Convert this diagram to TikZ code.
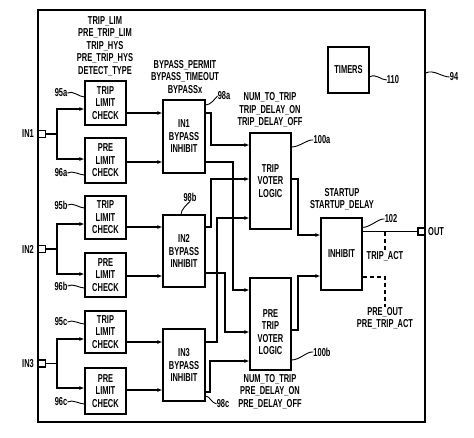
\documentclass[tikz,border=0pt]{standalone}
\usepackage{fontspec}
\setmainfont{Liberation Sans}[FakeStretch=0.65]
\usetikzlibrary{arrows.meta}
\begin{document}
\begin{tikzpicture}[x=1pt,y=-1pt,
  every node/.style={font=\fontsize{11.5}{12.5}\selectfont\bfseries, inner sep=0pt},
  box/.style={draw, line width=1.2pt, align=center, minimum width=41pt},
  txt/.style={align=center},
  wire/.style={line width=1.2pt},
  arr/.style={wire, -{Latex[length=5pt,width=4pt]}},
  dashline/.style={line width=1.2pt, dash pattern=on 4pt off 3pt},
  lead/.style={line width=0.9pt},
  port/.style={draw, line width=1.2pt, minimum size=7pt, fill=white}
]
\useasboundingbox (0,0) rectangle (474,437);

% frame
\node[draw, line width=1.2pt, minimum width=387pt, minimum height=412pt] (frame) at (231.5,216) {};
\node[box, minimum height=46pt] (timers) at (348.5,70) {TIMERS};

% limit checks
\node[box, minimum height=44pt] (ta) at (105.5,103) {TRIP\\LIMIT\\CHECK};
\node[box, minimum height=45pt] (pa) at (105.5,160.5) {PRE\\LIMIT\\CHECK};
\node[box, minimum height=43pt] (tb) at (105.5,217.5) {TRIP\\LIMIT\\CHECK};
\node[box, minimum height=44pt] (pb) at (105.5,275) {PRE\\LIMIT\\CHECK};
\node[box, minimum height=42pt] (tc) at (105.5,332) {TRIP\\LIMIT\\CHECK};
\node[box, minimum height=46pt] (pc) at (105.5,391) {PRE\\LIMIT\\CHECK};

% bypass inhibits
\node[box, minimum width=42pt, minimum height=73pt] (ba) at (184,136.5) {IN1\\BYPASS\\INHIBIT};
\node[box, minimum width=42pt, minimum height=72pt] (bb) at (184,251) {IN2\\BYPASS\\INHIBIT};
\node[box, minimum width=42pt, minimum height=72pt] (bc) at (184,365) {IN3\\BYPASS\\INHIBIT};

% voters
\node[box, minimum height=96pt] (va) at (270.5,181) {TRIP\\VOTER\\LOGIC};
\node[box, minimum height=92pt] (vb) at (270.5,324) {};
\node[txt] (vbt) at (270.5,332) {PRE\\TRIP\\VOTER\\LOGIC};

% inhibit
\node[box, minimum height=72pt] (inh) at (341.5,254) {INHIBIT};

% ports
\node[port] (in1) at (42,134) {};
\node[port] (in2) at (42,249) {};
\node[port] (in3) at (42,363.5) {};
\node[port] (out) at (421.5,231.5) {};
\node (in1l) at (28,134) {IN1};
\node (in2l) at (28,249) {IN2};
\node (in3l) at (28,363.5) {IN3};
\node[anchor=west] (outl) at (428,231.5) {OUT};

% parameter texts
\node[txt] (p1) at (105,46) {TRIP\_LIM\\PRE\_TRIP\_LIM\\TRIP\_HYS\\PRE\_TRIP\_HYS\\DETECT\_TYPE};
\node[txt] (p2) at (185,77) {BYPASS\_PERMIT\\BYPASS\_TIMEOUT\\BYPASSx};
\node[txt] (p3) at (270,110) {NUM\_TO\_TRIP\\TRIP\_DELAY\_ON\\TRIP\_DELAY\_OFF};
\node[txt] (p4) at (342,199) {STARTUP\\STARTUP\_DELAY};
\node[txt] (p5) at (270,391.5) {NUM\_TO\_TRIP\\PRE\_DELAY\_ON\\PRE\_DELAY\_OFF};
\node[txt] (tact) at (385,256) {TRIP\_ACT};
\node[txt] (pout) at (385,318) {PRE\_OUT\\PRE\_TRIP\_ACT};

% input branches
\coordinate (j1) at (57,134);
\coordinate (j2) at (57,249);
\coordinate (j3) at (57,363.5);
\draw[wire] (in1.east) -- (j1);
\draw[arr] (j1) |- (ta.west |- 0,109);
\draw[arr] (j1) |- (pa.west |- 0,159);
\draw[wire] (in2.east) -- (j2);
\draw[arr] (j2) |- (tb.west |- 0,224);
\draw[arr] (j2) |- (pb.west |- 0,274);
\draw[wire] (in3.east) -- (j3);
\draw[arr] (j3) |- (tc.west |- 0,339);
\draw[arr] (j3) |- (pc.west |- 0,388);

% limit checks to bypass
\draw[arr] (ta.east |- 0,113) -- (ba.west |- 0,113);
\draw[arr] (pa.east |- 0,162) -- (ba.west |- 0,162);
\draw[arr] (tb.east |- 0,227) -- (bb.west |- 0,227);
\draw[arr] (pb.east |- 0,276) -- (bb.west |- 0,276);
\draw[arr] (tc.east |- 0,342) -- (bc.west |- 0,342);
\draw[arr] (pc.east |- 0,390) -- (bc.west |- 0,390);

% bypass to voters
\draw[arr] (ba.east |- 0,113) -- (211,113) |- (va.west |- 0,145);
\draw[arr] (ba.east |- 0,162) -- (233,162) |- (vb.west |- 0,290);
\draw[arr] (bb.east |- 0,227) -- (211,227) |- (va.west |- 0,179);
\draw[arr] (bb.east |- 0,273) -- (225,273) |- (vb.west |- 0,332);
\draw[arr] (bc.east |- 0,342) -- (217,342) |- (va.west |- 0,218);
\draw[arr] (bc.east |- 0,392) -- (210,392) |- (vb.west |- 0,361);

% voters to inhibit
\draw[arr] (va.east |- 0,179) -- (298,179) |- (inh.west |- 0,235);
\draw[arr] (vb.east |- 0,330) -- (298,330) |- (inh.west |- 0,276);

% output
\draw[wire] (inh.east |- 0,231.5) -- (out.west);
\coordinate (tj) at (385,231.5);
\draw[dashline] (tj) -- (tact.north);
\draw[dashline] (inh.east |- 0,277) -| (pout.north);

% reference labels
\node (l95a) at (61,93) {95a};
\node (l96a) at (61,173) {96a};
\node (l95b) at (61,205) {95b};
\node (l96b) at (61,286) {96b};
\node (l95c) at (61,322) {95c};
\node (l96c) at (61,402) {96c};
\node (l98a) at (224,96) {98a};
\node (l98b) at (190,197) {98b};
\node (l98c) at (223,404) {98c};
\node (l100a) at (322,140) {100a};
\node (l100b) at (322,352) {100b};
\node (l102) at (391,219) {102};
\node (l110) at (393,80) {110};
\node (l94) at (454,77) {94};

\draw[lead] (l95a.east) .. controls +(5,-3) and +(-5,0) .. (ta.west |- 0,97);
\draw[lead] (l96a.east) .. controls +(5,-3) and +(-5,0) .. (pa.west |- 0,175);
\draw[lead] (l95b.east) .. controls +(5,-3) and +(-5,0) .. (tb.west |- 0,208);
\draw[lead] (l96b.east) .. controls +(5,-3) and +(-5,0) .. (pb.west |- 0,288);
\draw[lead] (l95c.east) .. controls +(5,-3) and +(-5,0) .. (tc.west |- 0,324);
\draw[lead] (l96c.east) .. controls +(5,-3) and +(-5,0) .. (pc.west |- 0,404);
\draw[lead] (ba.east |- 0,105) .. controls +(5,0) and +(-3,3) .. (l98a.west);
\draw[lead] (bb.north -| 181,0) .. controls +(0,-5) and +(-3,3) .. (l98b.south);
\draw[lead] (bc.east |- 0,396) .. controls +(4,0) and +(-5,-1) .. (l98c.west);
\draw[lead] (va.east |- 0,147) .. controls +(8,0) and +(-6,-1) .. (l100a.west);
\draw[lead] (vb.east |- 0,360) .. controls +(8,0) and +(-6,-1) .. (l100b.west);
\draw[lead] (inh.north east) ++(0,10) .. controls +(8,0) and +(-6,-1) .. (l102.west);
\draw[lead] (timers.east |- 0,77) .. controls +(6,-4) and +(-6,0) .. (l110.west);
\draw[lead] (frame.east |- 0,73) .. controls +(8,-4) and +(-8,0) .. (l94.west);
\end{tikzpicture}
\end{document}
